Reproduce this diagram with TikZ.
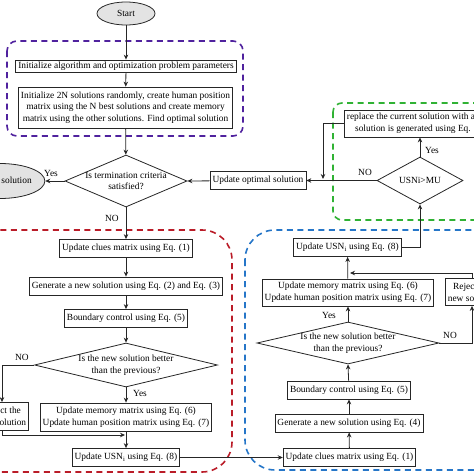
\documentclass[tikz,border=0pt]{standalone}
\usepackage{fontspec}
\setmainfont{Liberation Serif}
\usepackage{tikz}
\usetikzlibrary{shapes.geometric,arrows.meta,positioning}
\definecolor{grpurple}{RGB}{80,34,158}
\definecolor{grgreen}{RGB}{48,178,52}
\definecolor{grred}{RGB}{186,28,40}
\definecolor{grblue}{RGB}{38,118,200}
\tikzset{
  fcbox/.style={
    rectangle, draw=black!85, line width=0.8pt, fill=white,
    minimum height=18pt, inner xsep=2.5pt, inner ysep=1.5pt,
    align=center, font=\fontsize{9.4}{11.7}\selectfont
  },
  fcterm/.style={ellipse, draw=black!85, line width=0.8pt, fill=gray!22,
    inner sep=0pt, font=\fontsize{9.4}{11.7}\selectfont},
  fcdecision/.style={
    diamond, draw=black!85, line width=0.8pt, fill=white,
    inner xsep=-2pt, inner ysep=-2.5pt, align=center, font=\fontsize{9.4}{11.7}\selectfont
  },
  fcarrow/.style={-{Stealth[length=5pt,width=4.5pt]}, line width=0.8pt, draw=black!85},
  fclabel/.style={font=\fontsize{9.4}{10}\selectfont, inner sep=0pt},
  fcgroup/.style={line width=1.6pt, dash pattern=on 6pt off 4.5pt, rounded corners=#1},
  fcgroup/.default=8pt,
}
\begin{document}
\begin{tikzpicture}[x=1pt, y=-1pt]
  \useasboundingbox (0,0) rectangle (474,474);
  \clip (0,0) rectangle (474,474);
  % groups
  \draw[fcgroup=10pt, draw=grpurple] (7,41) rectangle (243,136);
  \draw[fcgroup=9pt, draw=grgreen] (333,103) rectangle (520,220);
  \draw[fcgroup=30pt, draw=grred] (-30,230) rectangle (232,472);
  \draw[fcgroup=30pt, draw=grblue] (245,230) rectangle (520,470);
  % top
  \node (n1) [fcterm, minimum width=58pt, minimum height=23pt] at (126,13.5) {Start};
  \node (n2) [fcbox, minimum height=12pt, inner ysep=1pt] at (126,66) {Initialize algorithm and optimization problem parameters};
  \node (n3) [fcbox, minimum height=41pt] at (125.5,107.5) {Initialize 2N solutions randomly, create human position\\matrix using the N best solutions and create memory\\matrix using the other solutions. Find optimal solution};
  \node (n4) [fcdecision, minimum width=122pt, minimum height=52pt, shape aspect=2.35] at (126,181) {Is termination criteria\\satisfied?};
  \node (n5) [fcterm, minimum width=72pt, minimum height=35pt] at (0,181) {Optimal solution};
  \node (n6) [fcbox] at (258,180.5) {Update optimal solution};
  \node (n7) [fcdecision, minimum width=86pt, minimum height=47pt, shape aspect=1.8] at (420,180.5) {USNi>MU};
  \node (n8) [fcbox, minimum height=27pt] at (420,123.5) {replace the current solution with a new\\solution is generated using Eq. (9)};
  % left branch
  \node (n9) [fcbox] at (126,248.5) {Update clues matrix using Eq. (1)};
  \node (n10) [fcbox] at (126,286) {Generate a new solution using Eq. (2) and Eq. (3)};
  \node (n11) [fcbox] at (126,318.5) {Boundary control using Eq. (5)};
  \node (n12) [fcdecision, minimum width=183pt, minimum height=44pt, shape aspect=4.2] at (126,365) {Is the new solution better\\than the previous?};
  \node (n13) [fcbox, minimum height=28pt] at (2,416.5) {Reject the\\new solution};
  \node (n14) [fcbox, minimum height=28pt] at (126,417) {Update memory matrix using Eq. (6)\\Update human position matrix using Eq. (7)};
  \node (n15) [fcbox] at (126,457.5) {Update USN\textsubscript{i} using Eq. (8)};
  % right branch
  \node (n16) [fcbox] at (349.5,457.5) {Update clues matrix using Eq. (1)};
  \node (n17) [fcbox] at (349,423) {Generate a new solution using Eq. (4)};
  \node (n18) [fcbox] at (349,390) {Boundary control using Eq. (5)};
  \node (n19) [fcdecision, minimum width=182pt, minimum height=42pt, shape aspect=4.3] at (348,343) {Is the new solution better\\than the previous?};
  \node (n20) [fcbox, minimum height=27pt] at (472,292) {Reject the\\new solution};
  \node (n21) [fcbox, minimum height=27pt] at (348,292.5) {Update memory matrix using Eq. (6)\\Update human position matrix using Eq. (7)};
  \node (n22) [fcbox] at (347.5,247.5) {Update USN\textsubscript{i} using Eq. (8)};
  \coordinate (c1) at (125,435);
  \coordinate (c2) at (350,273);
  \coordinate (c3) at (323,179);
  % labels
  \node (l1) [fclabel] at (51,173) {Yes};
  \node (l2) [fclabel] at (112,218) {NO};
  \node (l3) [fclabel] at (22,357) {NO};
  \node (l4) [fclabel] at (140,393) {Yes};
  \node (l5) [fclabel] at (365,172) {NO};
  \node (l6) [fclabel] at (432,150) {Yes};
  \node (l7) [fclabel] at (450,335) {NO};
  \node (l8) [fclabel] at (329,315) {Yes};
  % connectors
  \draw[fcarrow] (n1)--(n2); \draw[fcarrow] (n2)--(n3); \draw[fcarrow] (n3)--(n4);
  \draw[fcarrow] (n4.west)--(n5); \draw[fcarrow] (n6)--(n4.east);
  \draw[fcarrow] (n7.west)--(n6); \draw[fcarrow] (n7.north)--(n8);
  \draw[fcarrow] (n8.west) -| (c3);
  \draw[fcarrow] (n4.south)--(n9); \draw[fcarrow] (n9)--(n10); \draw[fcarrow] (n10)--(n11);
  \draw[fcarrow] (n11)--(n12.north);
  \draw[fcarrow] (n12.west) -| (n13.north); \draw[fcarrow] (n12.south)--(n14);
  \draw[fcarrow] (n13.south) |- (c1); \draw[fcarrow] (n14)--(n15);
  \draw[fcarrow] (n15)--(n16);
  \draw[fcarrow] (n16)--(n17); \draw[fcarrow] (n17)--(n18); \draw[fcarrow] (n18)--(n19.south);
  \draw[fcarrow] (n19.north)--(n21); \draw[fcarrow] (n19.east) -| (n20.south);
  \draw[fcarrow] (n20.north) |- (c2); \draw[fcarrow] (n21)--(n22);
  \draw[fcarrow] (n22.east) -| (n7.south);
\end{tikzpicture}
\end{document}
